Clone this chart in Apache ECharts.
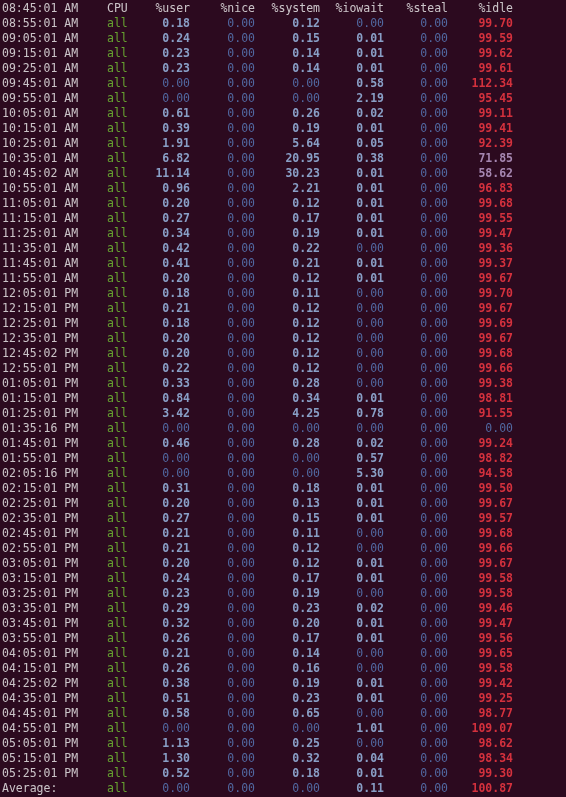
<!DOCTYPE html>
<html><head><meta charset="utf-8">
<script src="https://cdn.jsdelivr.net/npm/echarts@6/dist/echarts.min.js"></script>
<style>html,body{margin:0;padding:0;background:#2c0a1f;}#c{width:566px;height:797px;}</style>
</head><body><div id="c"></div>
<script>
const headers = ["08:45:01 AM","CPU","%user","%nice","%system","%iowait","%steal","%idle"];
const times = ["08:55:01 AM","09:05:01 AM","09:15:01 AM","09:25:01 AM","09:45:01 AM","09:55:01 AM","10:05:01 AM","10:15:01 AM","10:25:01 AM","10:35:01 AM","10:45:02 AM","10:55:01 AM","11:05:01 AM","11:15:01 AM","11:25:01 AM","11:35:01 AM","11:45:01 AM","11:55:01 AM","12:05:01 PM","12:15:01 PM","12:25:01 PM","12:35:01 PM","12:45:02 PM","12:55:01 PM","01:05:01 PM","01:15:01 PM","01:25:01 PM","01:35:16 PM","01:45:01 PM","01:55:01 PM","02:05:16 PM","02:15:01 PM","02:25:01 PM","02:35:01 PM","02:45:01 PM","02:55:01 PM","03:05:01 PM","03:15:01 PM","03:25:01 PM","03:35:01 PM","03:45:01 PM","03:55:01 PM","04:05:01 PM","04:15:01 PM","04:25:02 PM","04:35:01 PM","04:45:01 PM","04:55:01 PM","05:05:01 PM","05:15:01 PM","05:25:01 PM","Average:"];
const userV = [0.18,0.24,0.23,0.23,0,0,0.61,0.39,1.91,6.82,11.14,0.96,0.20,0.27,0.34,0.42,0.41,0.20,0.18,0.21,0.18,0.20,0.20,0.22,0.33,0.84,3.42,0,0.46,0,0,0.31,0.20,0.27,0.21,0.21,0.20,0.24,0.23,0.29,0.32,0.26,0.21,0.26,0.38,0.51,0.58,0,1.13,1.30,0.52,0];
const niceV = times.map(()=>0);
const systemV = [0.12,0.15,0.14,0.14,0,0,0.26,0.19,5.64,20.95,30.23,2.21,0.12,0.17,0.19,0.22,0.21,0.12,0.11,0.12,0.12,0.12,0.12,0.12,0.28,0.34,4.25,0,0.28,0,0,0.18,0.13,0.15,0.11,0.12,0.12,0.17,0.19,0.23,0.20,0.17,0.14,0.16,0.19,0.23,0.65,0,0.25,0.32,0.18,0];
const iowaitV = [0,0.01,0.01,0.01,0.58,2.19,0.02,0.01,0.05,0.38,0.01,0.01,0.01,0.01,0.01,0,0.01,0.01,0,0,0,0,0,0,0,0.01,0.78,0,0.02,0.57,5.30,0.01,0.01,0.01,0,0,0.01,0.01,0,0.02,0.01,0.01,0,0,0.01,0.01,0,1.01,0,0.04,0.01,0.11];
const stealV = times.map(()=>0);
const idleV = [99.70,99.59,99.62,99.61,112.34,95.45,99.11,99.41,92.39,71.85,58.62,96.83,99.68,99.55,99.47,99.36,99.37,99.67,99.70,99.67,99.69,99.67,99.68,99.66,99.38,98.81,91.55,0,99.24,98.82,94.58,99.50,99.67,99.57,99.68,99.66,99.67,99.58,99.58,99.46,99.47,99.56,99.65,99.58,99.42,99.25,98.77,109.07,98.62,98.34,99.30,100.87];

const FONT = "DejaVu Sans Mono";
const FS = 11.5;
const colX = [190,255,320,384,448,513];
const cols = [userV,niceV,systemV,iowaitV,stealV,idleV];

function numColor(v, isIdle){
  if (v === 0) return {c:'#5a7fc0', w:'normal'};
  if (isIdle) return v >= 80 ? {c:'#ff3b45', w:'bold'} : {c:'#c4a6d6', w:'bold'};
  return {c:'#a0c4f0', w:'bold'};
}

const series = [];
function textSeries(data, align){
  series.push({
    type:'scatter', symbolSize:0, silent:true, animation:false,
    data: data.map(d=>({value:[d.x,d.y], label:{formatter:d.t, color:d.c, fontWeight:d.w||'normal'}})),
    label:{show:true, position: align==='left'?'right':'left', distance:0, fontFamily:FONT, fontSize:FS}
  });
}
textSeries([{x:2,y:0,t:headers[0],c:'#f2f2f2'},{x:107,y:0,t:headers[1],c:'#f2f2f2'}],'left');
textSeries(headers.slice(2).map((h,i)=>({x:colX[i],y:0,t:h,c:'#f2f2f2'})),'right');
textSeries(times.map((t,i)=>({x:2,y:i+1,t:t,c:'#f2f2f2'})),'left');
textSeries(times.map((t,i)=>({x:107,y:i+1,t:'all',c:'#76c934'})),'left');
cols.forEach((arr,ci)=>{
  textSeries(arr.map((v,i)=>{const s=numColor(v,ci===5);return {x:colX[ci],y:i+1,t:v.toFixed(2),c:s.c,w:s.w};}),'right');
});

const chart = echarts.init(document.getElementById('c'));
chart.setOption({
  backgroundColor:'#2c0a1f',
  grid:{left:0,right:0,top:1.5,height:795},
  xAxis:{type:'value',min:0,max:566,show:false},
  yAxis:{type:'value',min:-0.5,max:52.5,inverse:true,show:false},
  series
});
</script></body></html>
